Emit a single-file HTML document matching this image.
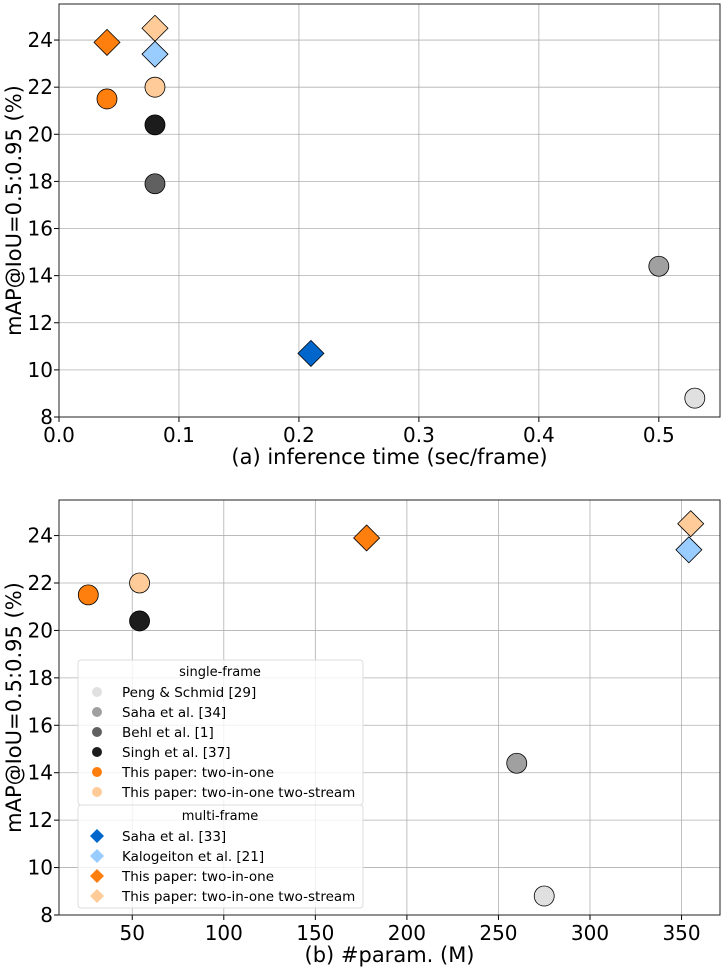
<!DOCTYPE html>
<html><head><meta charset="utf-8"><style>
body{margin:0;background:#fff;}
svg{display:block;font-family:"DejaVu Sans","Liberation Sans",sans-serif;}
</style></head><body>
<svg id="chart" width="724" height="967"></svg>
<script>
// Series data
const seriesNames = ["Peng & Schmid [29]","Saha et al. [34]","Behl et al. [1]","Singh et al. [37]","This paper: two-in-one","This paper: two-in-one two-stream","Saha et al. [33]","Kalogeiton et al. [21]","This paper: two-in-one","This paper: two-in-one two-stream"];
const seriesShapes = ["c","c","c","c","c","c","d","d","d","d"];
const seriesColors = ["#e0e0e0","#a0a0a0","#606060","#1c1c1c","#ff7f0e","#ffcc99","#0066cc","#99ccff","#ff7f0e","#ffcc99"];
const mapValues = [8.8,14.4,17.9,20.4,21.5,22.0,10.7,23.4,23.9,24.5];
const inferenceTime = [0.53,0.5,0.08,0.08,0.04,0.08,0.21,0.08,0.04,0.08];
const params = [275,260,null,54,26,54,null,354,178,355];
const yTicks = [8,10,12,14,16,18,20,22,24];
const xTicksA = [0.0,0.1,0.2,0.3,0.4,0.5];
const xTicksB = [50,100,150,200,250,300,350];

const svg = document.getElementById('chart');
const NS = 'http://www.w3.org/2000/svg';
function mk(tag, attrs, parent){const e=document.createElementNS(NS,tag);for(const k in attrs)e.setAttribute(k,attrs[k]);(parent||svg).appendChild(e);return e;}

function panel(p){
  const g = mk('g',{});
  
  
  const L=59,R=720,T=p.top,B=p.bottom;
  const sx=v=>L+(v-p.xmin)/(p.xmax-p.xmin)*(R-L);
  const sy=v=>B-(v-p.ymin)/(p.ymax-p.ymin)*(B-T);
  p.xt.forEach(t=>{const x=sx(t);
    const l=mk('line',{x1:x,x2:x,y1:T,y2:B,stroke:'#b0b0b0','stroke-width':0.8},g);
    
    
    mk('line',{x1:x,x2:x,y1:B,y2:B+5,stroke:'#000'},g);
    const tx=mk('text',{x:x,y:B+25,'font-size':20,'text-anchor':'middle'},g);tx.textContent=p.fmt(t);
    
    
  });
  yTicks.forEach(t=>{const y=sy(t);
    const l=mk('line',{x1:L,x2:R,y1:y,y2:y,stroke:'#b0b0b0','stroke-width':0.8},g);
    
    
    mk('line',{x1:L-5,x2:L,y1:y,y2:y,stroke:'#000'},g);
    const tx=mk('text',{x:L-6,y:y+7,'font-size':20,'text-anchor':'end'},g);tx.textContent=t;
    
    
  });
  const fr=mk('rect',{x:L,y:T,width:R-L,height:B-T,fill:'none',stroke:'#222','stroke-width':1},g);
  
  
  p.xs.forEach((xv,i)=>{ if(xv==null) return;
    const x=sx(xv),y=sy(mapValues[i]);let m;
    if(seriesShapes[i]==='c') m=mk('circle',{cx:x,cy:y,r:10,fill:seriesColors[i],stroke:'#000','stroke-width':0.8},g);
    else m=mk('polygon',{points:`${x},${y-13} ${x+13},${y} ${x},${y+13} ${x-13},${y}`,fill:seriesColors[i],stroke:'#000','stroke-width':0.8},g);
    
    
  });
  const xl=mk('text',{x:(L+R)/2,y:B+47,'font-size':21,'text-anchor':'middle'},g);xl.textContent=p.xlabel;
  
  
  const yl=mk('text',{x:0,y:0,'font-size':21,'text-anchor':'middle',transform:`translate(21,${(T+B)/2}) rotate(-90)`},g);yl.textContent='mAP@IoU=0.5:0.95 (%)';
  
  
}
panel({name:'panel-a',top:4,bottom:417,xmin:0,xmax:0.551,ymin:8,ymax:25.53,xt:xTicksA,fmt:t=>t.toFixed(1),xs:inferenceTime,xlabel:'(a) inference time (sec/frame)'});
panel({name:'panel-b',top:500,bottom:915,xmin:10,xmax:371,ymin:8,ymax:25.5,xt:xTicksB,fmt:t=>String(t),xs:params,xlabel:'(b) #param. (M)'});

// legend
const lg=mk('g',{});


function box(y,h){mk('rect',{x:78,y:y,width:285,height:h,rx:3,fill:'#fff','fill-opacity':0.8,stroke:'#ddd'},lg);}
box(660,145);box(805,103);
function title(t,y){const e=mk('text',{x:220,y:y,'font-size':13,'text-anchor':'middle'},lg);e.textContent=t;
  
  }
title('single-frame',676);title('multi-frame',820);
seriesNames.forEach((n,i)=>{
  const y = i<6 ? 692+i*20 : 836+(i-6)*20;
  const x=97;
  if(seriesShapes[i]==='c') mk('circle',{cx:x,cy:y,r:5,fill:seriesColors[i]},lg);
  else mk('polygon',{points:`${x},${y-7} ${x+7},${y} ${x},${y+7} ${x-7},${y}`,fill:seriesColors[i]},lg);
  const t=mk('text',{x:122,y:y+5,'font-size':13.5},lg);t.textContent=n;
  
  
});
</script>
</body></html>
